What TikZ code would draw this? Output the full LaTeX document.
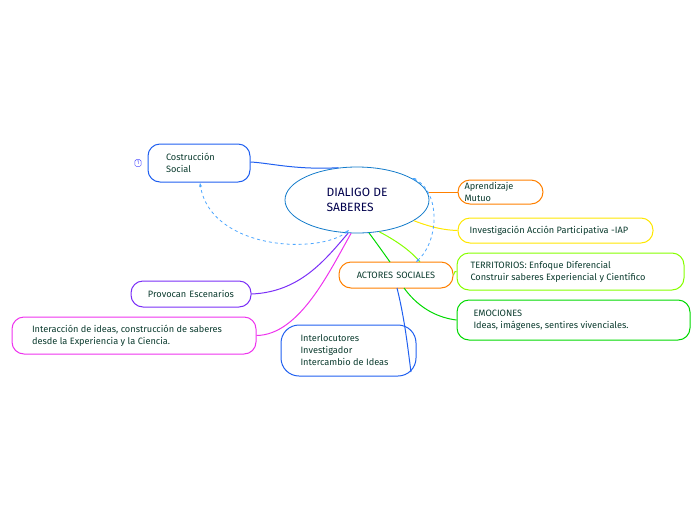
\documentclass[tikz,border=0pt]{standalone}
\usepackage{fontspec}
\setmainfont{Fira Sans}
\usetikzlibrary{arrows.meta,shapes.geometric}
\definecolor{txt}{HTML}{0B3B2E}
\definecolor{pur}{HTML}{7B2FF7}
\definecolor{mag}{HTML}{EE33EE}
\definecolor{bl}{HTML}{2060F0}
\begin{document}
\begin{tikzpicture}[x=1pt,y=-1pt,
  box/.style={draw,line width=1pt,rounded corners=12pt,align=flush left,font=\fontsize{9.2}{12}\selectfont,text=txt,inner xsep=0pt,inner ysep=0pt,anchor=center},
  con/.style={line width=1pt},
  dsh/.style={dashed,draw=blue!50!cyan!70,line width=0.8pt}]
\useasboundingbox (0,0) rectangle (696,520);
\node[draw=cyan!60!blue,line width=0.8pt,ellipse,minimum width=144pt,minimum height=66pt,align=flush left,font=\fontsize{12}{15}\selectfont,text=blue!30!black] (c) at (357,200) {DIALIGO DE\\SABERES};
\node[box,draw=bl,minimum width=102pt,minimum height=38pt,text width=66pt] (cs) at (199,163) {Costrucción\\Social};
\node[draw=blue!70,rounded corners=1.5pt,inner xsep=2pt,inner ysep=1.5pt,font=\fontsize{5.5}{6}\selectfont,text=blue!70] (one) at (138,163) {1};
\node[box,draw=orange,minimum width=85pt,minimum height=24pt,text width=72pt] (am) at (500.5,192) {Aprendizaje Mutuo};
\node[box,draw=yellow!90!orange,minimum width=195pt,minimum height=25pt,text width=172pt] (iap) at (555.5,230.5) {Investigación Acción Participativa -IAP};
\node[box,draw=orange,minimum width=114pt,minimum height=26pt,text width=90pt,align=center] (as) at (396,275) {ACTORES SOCIALES};
\node[box,draw=lime!70!green,minimum width=227pt,minimum height=37pt,text width=200pt] (ter) at (570.5,271.5) {TERRITORIOS: Enfoque Diferencial\\Construir saberes Experiencial y Científico};
\node[box,draw=green!85!black,minimum width=233pt,minimum height=40pt,text width=200pt] (emo) at (573.5,320) {EMOCIONES\\Ideas, imágenes, sentires vivenciales.};
\node[box,draw=pur,minimum width=120pt,minimum height=26pt,text width=100pt,align=center] (pe) at (191,294) {Provocan Escenarios};
\node[box,draw=mag,minimum width=244pt,minimum height=37pt,text width=204pt] (int) at (134,335.5) {Interacción de ideas, construcción de saberes\\desde la Experiencia y la Ciencia.};
\node[box,draw=bl,rounded corners=18pt,minimum width=135pt,minimum height=51pt,text width=96pt] (il) at (348.5,350.5) {Interlocutores\\Investigador\\Intercambio de Ideas};
% connectors
\draw[con,bl] (cs.east) ++(0,-1) .. controls (270,163) and (295,170) .. (c.120);
\draw[con,orange] (c.east) ++(0,-8) -- (am.west);
\draw[con,yellow!90!orange] (c.-20) .. controls (425,225) and (440,230) .. (iap.west);
\draw[con,green!85!black] (c.-70) .. controls (378,245) and (385,255) .. (390,262);
\draw[con,lime!70!green] (c.-55) .. controls (395,240) and (410,250) .. (420,262);
\draw[con,lime!70!green] (as.east) .. controls (455,272) and (455,270) .. (ter.west);
\draw[con,green!85!black] (404,288) .. controls (420,310) and (440,318) .. (emo.west);
\draw[con,bl] (397,288) .. controls (405,320) and (408,350) .. (411,372);
\draw[con,pur] (pe.east) .. controls (300,292) and (325,260) .. (c.-105);
\draw[con,mag] (int.east) .. controls (300,335) and (330,270) .. (c.-100);
\draw[dsh,{Stealth[length=4pt]}-{Stealth[length=4pt]}] (349,230) .. controls (320,255) and (210,250) .. (200,183);
\draw[dsh,{Stealth[length=4pt]}-{Stealth[length=4pt]}] (412,178) .. controls (440,190) and (440,240) .. (416,262);
\end{tikzpicture}
\end{document}
